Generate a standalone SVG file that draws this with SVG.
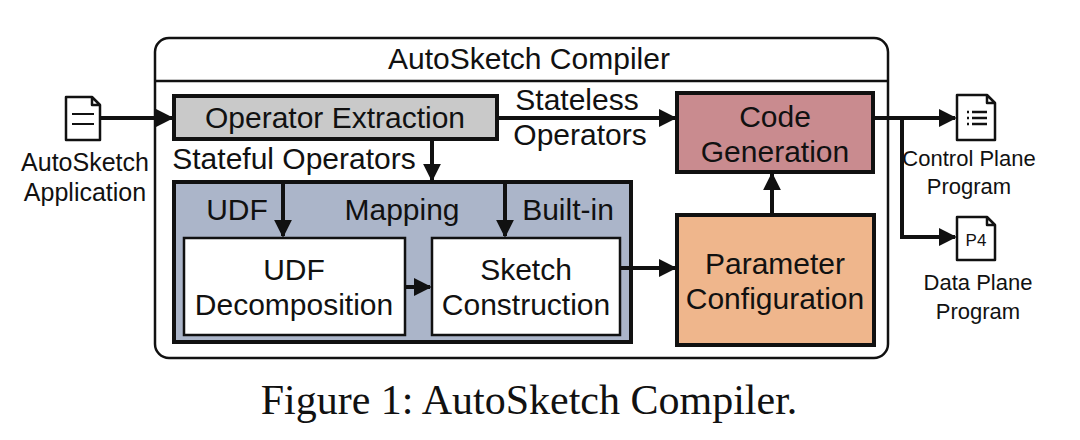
<svg xmlns="http://www.w3.org/2000/svg" width="1080" height="440" viewBox="0 0 1080 440">
<style>
text{font-family:"Liberation Sans",Arial,sans-serif;fill:#111;text-anchor:middle}
.t{font-size:30px}.s{font-size:25px}.r{font-size:22px}
.b{stroke:#111;stroke-width:4}
.c{fill:none;stroke:#111;stroke-width:4}
.d{fill:#fff;stroke:#111;stroke-width:2.5;stroke-linejoin:round}
</style>
<defs><marker id="a" viewBox="0 0 10 10" refX="9" refY="5" markerWidth="4.5" markerHeight="4.5" orient="auto" markerUnits="strokeWidth"><path d="M0,0L10,5L0,10z" fill="#111"/></marker></defs>
<rect x="0" y="0" width="1080" height="440" fill="#fff"/>
<g id="compiler"><rect x="155" y="38" width="733" height="320" rx="14" fill="#fff" stroke="#111" stroke-width="2.5"/><line x1="155" y1="81" x2="888" y2="81" stroke="#111" stroke-width="2.5"/><text class="t" x="529" y="69">AutoSketch Compiler</text></g>
<g id="app"><path class="d" d="M66,97H92L100,105V140H66Z M92,97V105H100"/><line x1="72" y1="114" x2="94" y2="114" stroke="#111" stroke-width="2"/><line x1="72" y1="124" x2="94" y2="124" stroke="#111" stroke-width="2"/><text class="s" x="85" y="171">AutoSketch</text><text class="s" x="85" y="201">Application</text></g>
<g id="extract"><rect class="b" x="174" y="96" width="323" height="43" fill="#c9c9c9"/><text class="t" x="335" y="128">Operator  Extraction</text></g>
<g id="mapping"><rect class="b" x="174" y="182" width="457" height="160" fill="#abb5c9"/><text class="t" x="237" y="220">UDF</text><text class="t" x="402" y="220">Mapping</text><text class="t" x="568" y="220">Built-in</text></g>
<g id="udf"><rect x="184" y="238" width="221" height="97" fill="#fff" stroke="#111" stroke-width="2.5"/><text class="t" x="294" y="280">UDF</text><text class="t" x="294" y="315">Decomposition</text></g>
<g id="sketch"><rect x="432" y="238" width="188" height="97" fill="#fff" stroke="#111" stroke-width="2.5"/><text class="t" x="526" y="280">Sketch</text><text class="t" x="526" y="315">Construction</text></g>
<g id="codegen"><rect class="b" x="677" y="93" width="196" height="79" fill="#c98b8f"/><text class="t" x="775" y="127">Code</text><text class="t" x="775" y="162">Generation</text></g>
<g id="param"><rect class="b" x="677" y="215" width="197" height="130" fill="#efb68c"/><text class="t" x="775" y="274">Parameter</text><text class="t" x="775" y="309">Configuration</text></g>
<g id="cp"><path class="d" d="M957,95H987L995,103V140H957Z M987,95V103H995"/><g stroke="#111" stroke-width="2.5"><line x1="967" y1="112" x2="969" y2="112"/><line x1="972" y1="112" x2="987" y2="112"/><line x1="967" y1="118" x2="969" y2="118"/><line x1="972" y1="118" x2="987" y2="118"/><line x1="967" y1="124" x2="969" y2="124"/><line x1="972" y1="124" x2="987" y2="124"/></g><text class="r" x="969" y="166">Control Plane</text><text class="r" x="969" y="194">Program</text></g>
<g id="dp"><path class="d" d="M957,217H987L995,225V260H957Z M987,217V225H995"/><text x="976" y="246" style="font-size:17px">P4</text><text class="r" x="978" y="290">Data Plane</text><text class="r" x="978" y="319">Program</text></g>
<g id="connectors">
<path class="c" d="M100,118H172" marker-end="url(#a)"/>
<path class="c" d="M497,118H675" marker-end="url(#a)"/>
<text class="t" x="577" y="110">Stateless</text><text class="t" x="580" y="145">Operators</text>
<path class="c" d="M432,139V180" marker-end="url(#a)"/>
<text class="t" x="294" y="169">Stateful Operators</text>
<path class="c" d="M283,184V236" marker-end="url(#a)"/>
<path class="c" d="M505,184V236" marker-end="url(#a)"/>
<path class="c" d="M405,287H430" marker-end="url(#a)"/>
<path class="c" d="M620,268H675" marker-end="url(#a)"/>
<path class="c" d="M772,215V174" marker-end="url(#a)"/>
<path class="c" d="M873,118H955" marker-end="url(#a)"/>
<path class="c" d="M902,118V237H955" marker-end="url(#a)"/>
</g>
<text x="529" y="414" style="font-family:'Liberation Serif',serif;font-size:42px">Figure 1: AutoSketch Compiler.</text>
</svg>
